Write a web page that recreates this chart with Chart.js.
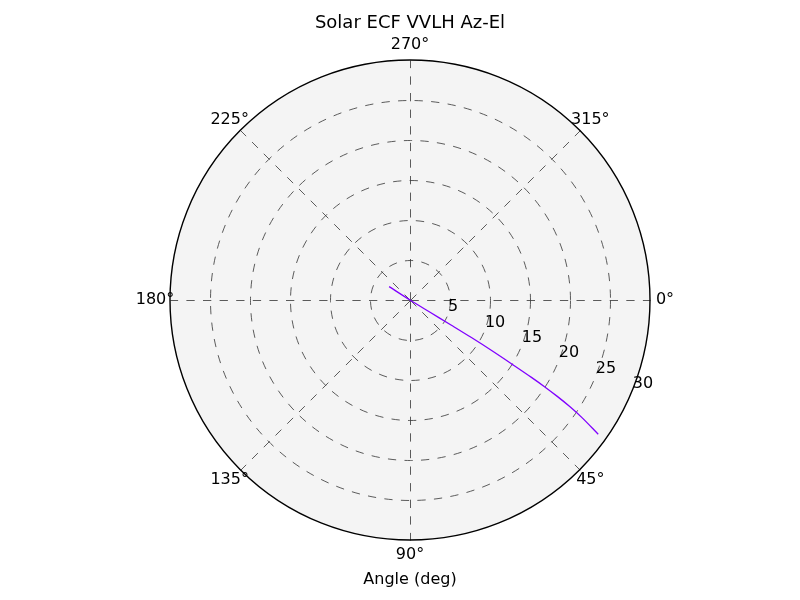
<!DOCTYPE html>
<html lang="en">
<head>
    <meta charset="UTF-8">
    <title>Solar ECF VVLH Az-El</title>
    <script src="https://cdn.jsdelivr.net/npm/chart.js@4.4.0/dist/chart.umd.min.js"></script>
    <style>
        html, body { margin: 0; padding: 0; background: #ffffff; }
        #wrap { width: 800px; height: 600px; }
    </style>
</head>
<body>
    <div id="wrap"><canvas id="polarChart" width="800" height="600"></canvas></div>

    <script>
        // azimuth (deg) and radius (deg) samples
        const azimuthDeg = [32.7, 31.6, 31.4, 31.35, 31.45, 31.75, 32.15, 32.5, 32.8, 33.2, 33.7, 34.35, 35.5];
        const radiusDeg = [-3.1, 0, 3, 6, 9, 12, 15, 18, 20, 22, 24, 26, 28.9];

        const radialTicks = [5, 10, 15, 20, 25, 30];
        const angleTicks = [0, 45, 90, 135, 180, 225, 270, 315];
        const rMax = 30;

        // polar -> cartesian, clockwise with 0 deg at the right
        const points = azimuthDeg.map(function(az, i) {
            const t = az * Math.PI / 180;
            return { x: radiusDeg[i] * Math.cos(t), y: -radiusDeg[i] * Math.sin(t) };
        });

        const polarGrid = {
            id: 'polarGrid',
            beforeDatasetsDraw(chart) {
                const ctx = chart.ctx;
                const xs = chart.scales.x, ys = chart.scales.y;
                const cx = xs.getPixelForValue(0), cy = ys.getPixelForValue(0);
                const R = xs.getPixelForValue(rMax) - cx;
                ctx.save();
                ctx.fillStyle = '#f4f4f4';
                ctx.beginPath();
                ctx.arc(cx, cy, R, 0, Math.PI * 2);
                ctx.fill();

                // crisp 1px dashed grid
                ctx.translate(0.5, 0.5);
                ctx.strokeStyle = '#333333';
                ctx.lineWidth = 0.8;
                ctx.setLineDash([8.3, 8.3]);
                radialTicks.forEach(function(r) {
                    if (r >= rMax) return;
                    const rp = xs.getPixelForValue(r) - cx;
                    ctx.beginPath();
                    ctx.arc(cx, cy, rp, 0, Math.PI * 2);
                    ctx.stroke();
                });
                angleTicks.forEach(function(a) {
                    const t = a * Math.PI / 180;
                    ctx.beginPath();
                    ctx.moveTo(cx, cy);
                    ctx.lineTo(cx + R * Math.cos(t), cy + R * Math.sin(t));
                    ctx.stroke();
                });
                ctx.restore();
            },
            afterDatasetsDraw(chart) {
                const ctx = chart.ctx;
                const xs = chart.scales.x, ys = chart.scales.y;
                const cx = xs.getPixelForValue(0), cy = ys.getPixelForValue(0);
                const R = xs.getPixelForValue(rMax) - cx;
                ctx.save();
                ctx.strokeStyle = '#000000';
                ctx.lineWidth = 1.4;
                ctx.beginPath();
                ctx.arc(cx, cy, R, 0, Math.PI * 2);
                ctx.stroke();

                ctx.fillStyle = '#000000';
                ctx.font = '16px "DejaVu Sans"';
                ctx.textAlign = 'center';
                ctx.textBaseline = 'middle';
                angleTicks.forEach(function(a) {
                    const t = a * Math.PI / 180;
                    ctx.fillText(a + '\u00b0', cx + (R + 15) * Math.cos(t), cy + (R + 15) * Math.sin(t));
                });

                ctx.textAlign = 'left';
                ctx.textBaseline = 'alphabetic';
                const lt = 22.5 * Math.PI / 180;
                radialTicks.forEach(function(r) {
                    const rp = xs.getPixelForValue(r) - cx;
                    ctx.fillText(String(r), cx + rp * Math.cos(lt) + 1, cy + rp * Math.sin(lt) - 4);
                });

                ctx.textAlign = 'center';
                ctx.fillText('Angle (deg)', cx, 584);
                ctx.font = '18px "DejaVu Sans"';
                ctx.fillText('Solar ECF VVLH Az-El', cx, 28);
                ctx.restore();
            }
        };

        new Chart(document.getElementById('polarChart'), {
            type: 'scatter',
            data: {
                datasets: [{
                    label: 'Sun',
                    data: points,
                    showLine: true,
                    borderColor: '#8000ff',
                    borderWidth: 1.3,
                    pointRadius: 0,
                    cubicInterpolationMode: 'monotone'
                }]
            },
            options: {
                responsive: false,
                animation: false,
                layout: { padding: { left: 170, right: 150, top: 60, bottom: 60 } },
                scales: {
                    x: { type: 'linear', min: -rMax, max: rMax, display: false },
                    y: { type: 'linear', min: -rMax, max: rMax, display: false }
                },
                plugins: {
                    legend: { display: false },
                    tooltip: { enabled: false }
                }
            },
            plugins: [polarGrid]
        });
    </script>
</body>
</html>
